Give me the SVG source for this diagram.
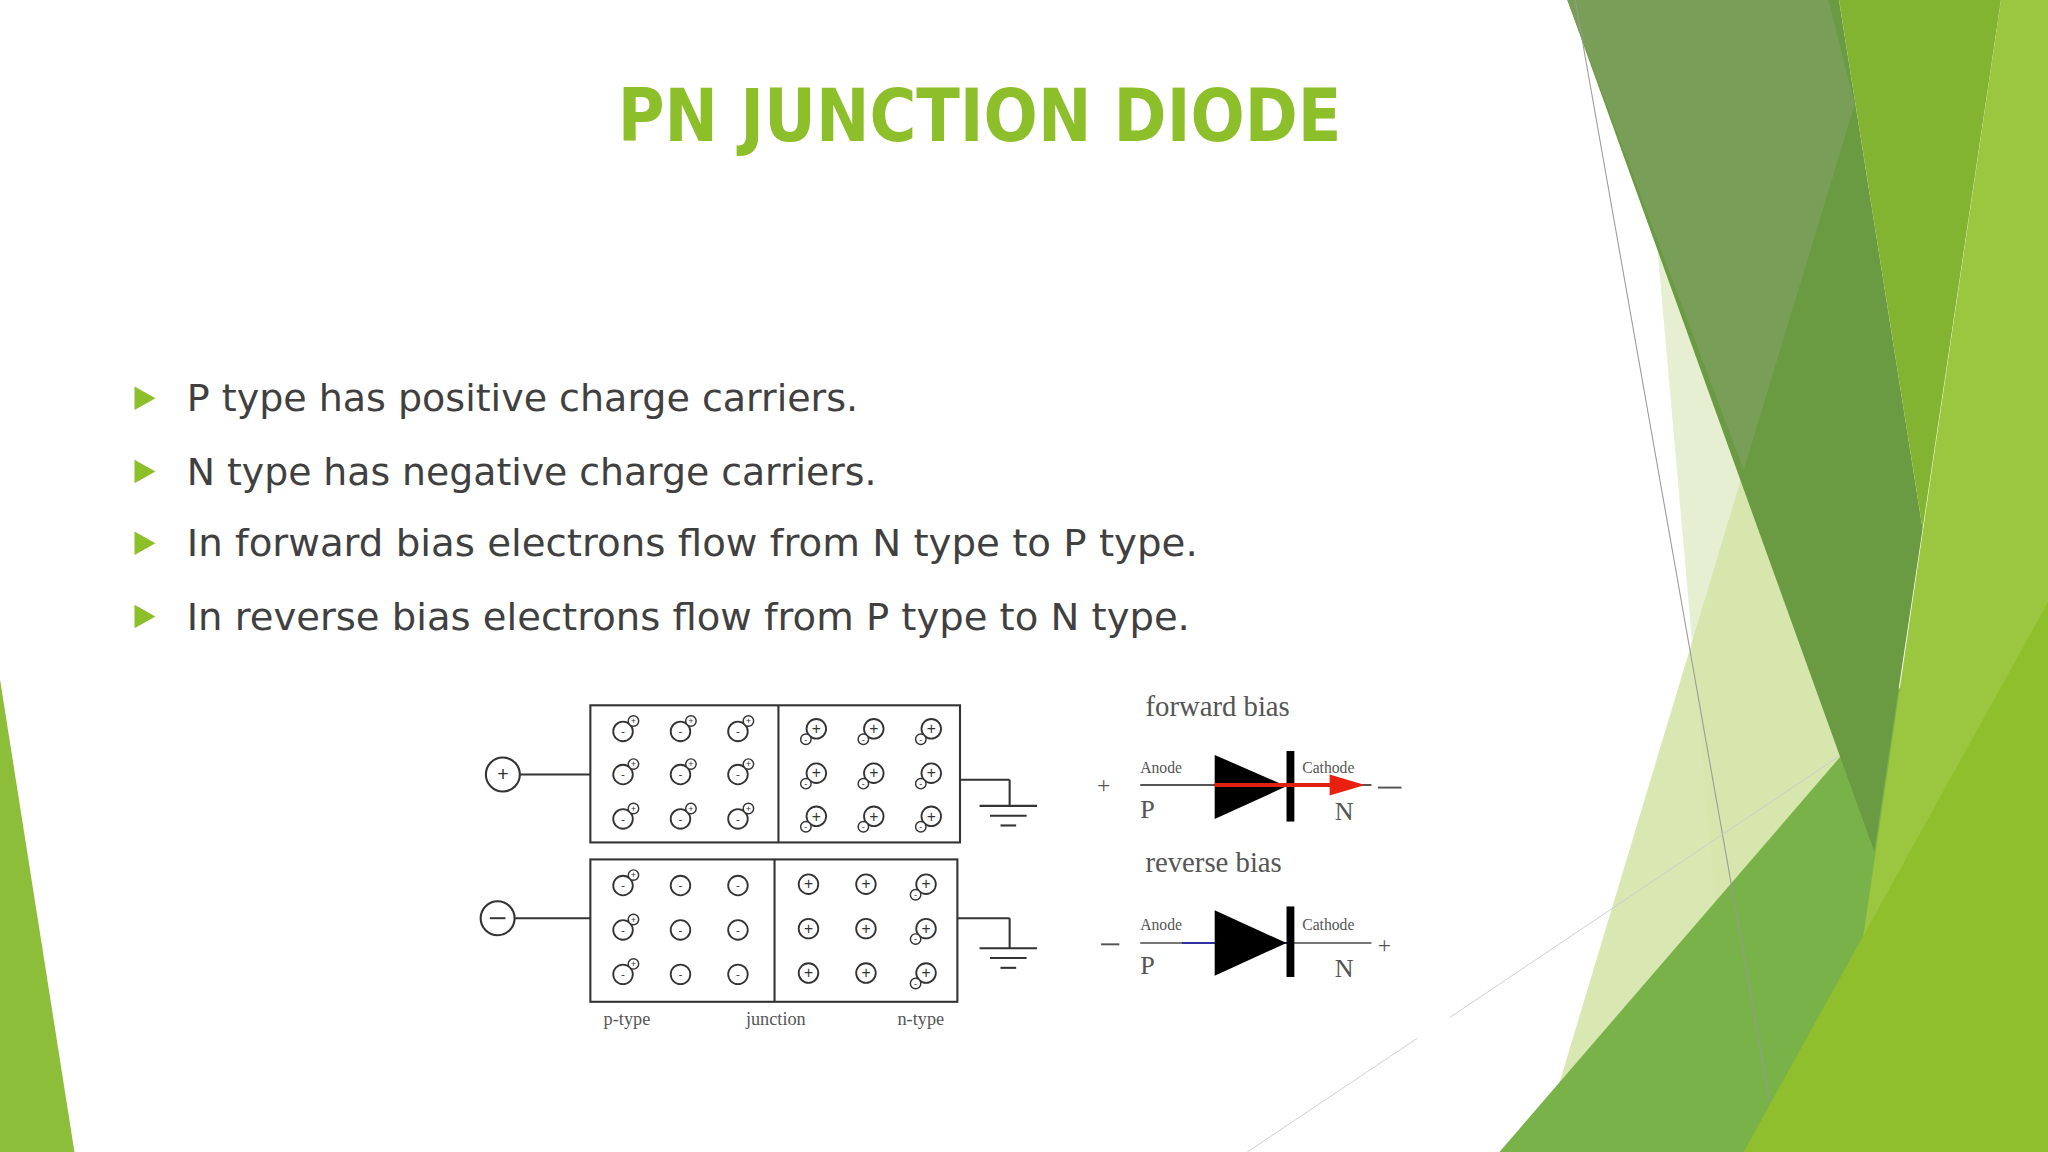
<svg xmlns="http://www.w3.org/2000/svg" width="2048" height="1152" viewBox="0 0 2048 1152">
<defs>
<style>
.bt{font-family:"DejaVu Sans","Open Sans",sans-serif;font-size:29px;fill:#404040}
.sr{font-family:"Liberation Serif",serif;fill:#555}
.ln{stroke:#333;stroke-width:1.6;fill:none}
.big{fill:#fff;stroke:#333;stroke-width:1.4}
.sm{fill:#fff;stroke:#333;stroke-width:1.1}
.ch{font-family:"Liberation Sans",sans-serif;fill:#333;text-anchor:middle}
</style>
<g id="pP"><circle class="big" cx="0" cy="0" r="7.5"/><text class="ch" x="0" y="3" font-size="9">-</text><circle class="sm" cx="8" cy="-8" r="4"/><text class="ch" x="8" y="-5.5" font-size="7">+</text></g>
<g id="pO"><circle class="big" cx="0" cy="0" r="7.5"/><text class="ch" x="0" y="3" font-size="9">-</text></g>
<g id="nN"><circle class="big" cx="0" cy="0" r="7.5"/><text class="ch" x="0" y="4" font-size="12">+</text><circle class="sm" cx="-8" cy="8" r="4"/><text class="ch" x="-8" y="10.5" font-size="7">-</text></g>
<g id="nO"><circle class="big" cx="0" cy="0" r="7.5"/><text class="ch" x="0" y="4" font-size="12">+</text></g>
<g id="gnd"><line class="ln" x1="750" y1="0" x2="794" y2="0" stroke-width="3"/><line class="ln" x1="758" y1="7.5" x2="786" y2="7.5" stroke-width="3"/><line class="ln" x1="766" y1="15" x2="778" y2="15" stroke-width="3"/></g>
</defs>
<rect width="2048" height="1152" fill="#fff"/>
<g transform="scale(1.30612)">
<g id="background">
<polygon points="0,520 0,882 57,882" fill="#8DBE3A"/>
<polygon points="1269,191 1440,600 1402,882 1330,882" fill="#E6EFD2"/>
<polygon points="1335,360 1440,600 1402,882 1178,882" fill="#D2E4A6" opacity="0.85"/>
<polygon points="1148,882 1455,526 1568,470 1568,882" fill="#7AB24A"/>
<polygon points="1200,0 1408,0 1472,405 1435,652" fill="#6A9B42"/>
<polygon points="1200,0 1400,0 1420,80 1335,360" fill="#789E58"/>
<polygon points="1408,0 1532,0 1472,405" fill="#82B432"/>
<polygon points="1532,0 1568,0 1568,882 1390,882 1427,714" fill="#9BC640"/>
<polygon points="1335,882 1568,461 1568,882" fill="#8FBF2C"/>
<line x1="1206" y1="0" x2="1355" y2="844" stroke="#999" stroke-width="0.8"/>
<line x1="1110" y1="779" x2="1408" y2="579" stroke="#ccc" stroke-width="0.7"/>
<line x1="1085" y1="795" x2="955" y2="882" stroke="#ccc" stroke-width="0.7"/>
</g>
<g id="title"><text x="750" y="108" text-anchor="middle" font-family="DejaVu Sans,sans-serif" font-weight="bold" font-size="56" fill="#8CBF2A" textLength="554" lengthAdjust="spacingAndGlyphs">PN JUNCTION DIODE</text></g>
<g id="bullets">
<polygon points="103,296 119,305 103,314" fill="#8CBF2A"/>
<text class="bt" x="143" y="315" textLength="514" lengthAdjust="spacingAndGlyphs">P type has positive charge carriers.</text>
<polygon points="103,352 119,361 103,370" fill="#8CBF2A"/>
<text class="bt" x="143" y="371" textLength="528" lengthAdjust="spacingAndGlyphs">N type has negative charge carriers.</text>
<polygon points="103,407 119,416 103,425" fill="#8CBF2A"/>
<text class="bt" x="143" y="426" textLength="774" lengthAdjust="spacingAndGlyphs">In forward bias electrons flow from N type to P type.</text>
<polygon points="103,463 119,472 103,481" fill="#8CBF2A"/>
<text class="bt" x="143" y="482" textLength="768" lengthAdjust="spacingAndGlyphs">In reverse bias electrons flow from P type to N type.</text>
</g>
<g id="junction-forward">
<rect class="ln" x="452" y="540" width="283" height="105"/>
<line class="ln" x1="596" y1="540" x2="596" y2="645"/>
<circle class="ln" cx="385" cy="593" r="13"/><text class="ch" x="385" y="598" font-size="15">+</text>
<line class="ln" x1="398" y1="593" x2="452" y2="593"/>
<line class="ln" x1="735" y1="597" x2="773" y2="597"/><line class="ln" x1="773" y1="597" x2="773" y2="617"/>
<use href="#gnd" y="617"/>
<use href="#pP" x="477" y="560"/><use href="#pP" x="521" y="560"/><use href="#pP" x="565" y="560"/>
<use href="#pP" x="477" y="593"/><use href="#pP" x="521" y="593"/><use href="#pP" x="565" y="593"/>
<use href="#pP" x="477" y="627"/><use href="#pP" x="521" y="627"/><use href="#pP" x="565" y="627"/>
<use href="#nN" x="625" y="558"/><use href="#nN" x="669" y="558"/><use href="#nN" x="713" y="558"/>
<use href="#nN" x="625" y="592"/><use href="#nN" x="669" y="592"/><use href="#nN" x="713" y="592"/>
<use href="#nN" x="625" y="625"/><use href="#nN" x="669" y="625"/><use href="#nN" x="713" y="625"/>
</g>
<g id="junction-reverse">
<rect class="ln" x="452" y="658" width="281" height="109"/>
<line class="ln" x1="593" y1="658" x2="593" y2="767"/>
<circle class="ln" cx="381" cy="703" r="13"/><line x1="375" y1="703" x2="387" y2="703" stroke="#333" stroke-width="1.5"/>
<line class="ln" x1="394" y1="703" x2="452" y2="703"/>
<line class="ln" x1="733" y1="703" x2="773" y2="703"/><line class="ln" x1="773" y1="703" x2="773" y2="726"/>
<use href="#gnd" y="726"/>
<use href="#pP" x="477" y="678"/><use href="#pO" x="521" y="678"/><use href="#pO" x="565" y="678"/>
<use href="#pP" x="477" y="712"/><use href="#pO" x="521" y="712"/><use href="#pO" x="565" y="712"/>
<use href="#pP" x="477" y="746"/><use href="#pO" x="521" y="746"/><use href="#pO" x="565" y="746"/>
<use href="#nO" x="619" y="677"/><use href="#nO" x="663" y="677"/><use href="#nN" x="709" y="677"/>
<use href="#nO" x="619" y="711"/><use href="#nO" x="663" y="711"/><use href="#nN" x="709" y="711"/>
<use href="#nO" x="619" y="745"/><use href="#nO" x="663" y="745"/><use href="#nN" x="709" y="745"/>
<text class="sr" x="480" y="785" font-size="14" text-anchor="middle">p-type</text>
<text class="sr" x="594" y="785" font-size="14" text-anchor="middle">junction</text>
<text class="sr" x="705" y="785" font-size="14" text-anchor="middle">n-type</text>
</g>
<g id="diode-forward">
<text class="sr" x="877" y="548" font-size="22">forward bias</text>
<text class="sr" x="845" y="607" font-size="18" text-anchor="middle">+</text>
<line x1="873" y1="601" x2="1050" y2="601" stroke="#555" stroke-width="1.5"/>
<line x1="1055" y1="603" x2="1073" y2="603" stroke="#555" stroke-width="1.5"/>
<text class="sr" x="873" y="592" font-size="12">Anode</text>
<text class="sr" x="997" y="592" font-size="12">Cathode</text>
<text class="sr" x="873" y="626" font-size="20">P</text>
<text class="sr" x="1022" y="628" font-size="20">N</text>
<polygon points="930,578 930,627 985,602" fill="#000"/>
<rect x="985" y="575" width="6" height="54" fill="#000"/>
<line x1="930" y1="601" x2="1020" y2="601" stroke="#E02010" stroke-width="3"/>
<polygon points="1018,593 1045,601 1018,609" fill="#E82010"/>
</g>
<g id="diode-reverse">
<text class="sr" x="877" y="668" font-size="22">reverse bias</text>
<line x1="843" y1="723" x2="857" y2="723" stroke="#555" stroke-width="1.5"/>
<line x1="873" y1="722" x2="1050" y2="722" stroke="#777" stroke-width="1.5"/>
<line x1="905" y1="722" x2="990" y2="722" stroke="#3030A0" stroke-width="1.6"/>
<text class="sr" x="1060" y="730" font-size="18" text-anchor="middle">+</text>
<text class="sr" x="873" y="712" font-size="12">Anode</text>
<text class="sr" x="997" y="712" font-size="12">Cathode</text>
<text class="sr" x="873" y="746" font-size="20">P</text>
<text class="sr" x="1022" y="748" font-size="20">N</text>
<polygon points="930,697 930,747 985,722" fill="#000"/>
<rect x="985" y="694" width="6" height="54" fill="#000"/>
</g>
</g>
</svg>
